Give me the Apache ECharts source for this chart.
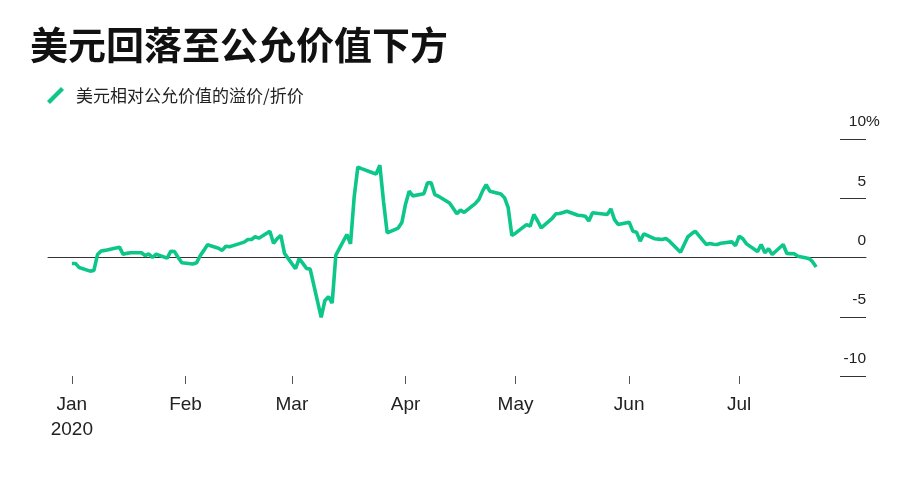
<!DOCTYPE html>
<html>
<head>
<meta charset="utf-8">
<script src="https://cdn.jsdelivr.net/npm/echarts@6/dist/echarts.min.js"></script>
<style>html,body{margin:0;padding:0;background:#fff}#c{width:913px;height:491px}</style>
</head>
<body>
<div id="c"></div>
<script>
var titleText = '美元回落至公允价值下方';
var seriesName = '美元相对公允价值的溢价/折价';
var dates = [
'2020-01-01','2020-01-02','2020-01-03','2020-01-06','2020-01-07','2020-01-08','2020-01-09','2020-01-10',
'2020-01-13','2020-01-14','2020-01-15','2020-01-16','2020-01-17','2020-01-20','2020-01-21','2020-01-22',
'2020-01-23','2020-01-24','2020-01-27','2020-01-28','2020-01-29','2020-01-30','2020-01-31',
'2020-02-03','2020-02-04','2020-02-05','2020-02-06','2020-02-07','2020-02-10','2020-02-11','2020-02-12',
'2020-02-13','2020-02-14','2020-02-17','2020-02-18','2020-02-19','2020-02-20','2020-02-21','2020-02-24',
'2020-02-25','2020-02-26','2020-02-27','2020-02-28',
'2020-03-02','2020-03-03','2020-03-04','2020-03-05','2020-03-06','2020-03-09','2020-03-10','2020-03-11',
'2020-03-12','2020-03-13','2020-03-16','2020-03-17','2020-03-18','2020-03-19','2020-03-20','2020-03-23',
'2020-03-24','2020-03-25','2020-03-26','2020-03-27','2020-03-30','2020-03-31',
'2020-04-01','2020-04-02','2020-04-03','2020-04-06','2020-04-07','2020-04-08','2020-04-09','2020-04-10',
'2020-04-13','2020-04-14','2020-04-15','2020-04-16','2020-04-17','2020-04-20','2020-04-21','2020-04-22',
'2020-04-23','2020-04-24','2020-04-27','2020-04-28','2020-04-29','2020-04-30',
'2020-05-01','2020-05-04','2020-05-05','2020-05-06','2020-05-07','2020-05-08','2020-05-11','2020-05-12',
'2020-05-13','2020-05-14','2020-05-15','2020-05-18','2020-05-19','2020-05-20','2020-05-21','2020-05-22',
'2020-05-26','2020-05-27','2020-05-28','2020-05-29',
'2020-06-01','2020-06-02','2020-06-03','2020-06-04','2020-06-05','2020-06-08','2020-06-09','2020-06-10',
'2020-06-11','2020-06-12','2020-06-15','2020-06-16','2020-06-17','2020-06-18','2020-06-19','2020-06-22',
'2020-06-23','2020-06-24','2020-06-25','2020-06-26','2020-06-29','2020-06-30',
'2020-07-01','2020-07-02','2020-07-03','2020-07-06','2020-07-07','2020-07-08','2020-07-09','2020-07-10',
'2020-07-13','2020-07-14','2020-07-15','2020-07-16','2020-07-17','2020-07-20','2020-07-21','2020-07-22'
];
var values = [
-0.5,-0.5,-0.85,-1.15,-1.1,0.25,0.55,0.6,
0.8,0.87,0.27,0.35,0.4,0.4,0.15,0.3,
0.0,0.28,-0.05,0.53,0.5,0.0,-0.45,
-0.55,-0.45,0.15,0.6,1.07,0.78,0.6,0.95,
0.9,1.0,1.3,1.52,1.52,1.75,1.63,2.22,
1.2,1.6,1.87,0.35,
-0.95,-0.1,-0.5,-0.92,-0.98,-5.05,-3.65,-3.3,
-3.85,0.2,1.94,1.15,5.1,7.63,7.5,7.15,
7.05,7.79,4.75,2.08,2.48,2.95,
4.5,5.6,5.2,5.38,6.3,6.3,5.3,5.17,
4.6,4.15,3.7,4.0,3.8,4.55,4.9,5.6,
6.15,5.6,5.36,5.05,4.2,1.86,
2.05,2.78,2.64,3.63,3.1,2.5,3.3,3.69,
3.71,3.8,3.9,3.57,3.55,3.49,3.08,3.77,
3.63,4.1,3.2,2.78,
2.98,2.22,2.14,1.38,2.0,1.58,1.55,1.52,
1.6,1.38,0.45,1.1,1.75,2.0,2.22,1.1,
1.18,1.12,1.1,1.2,1.32,1.0,
1.8,1.58,1.15,0.5,1.1,0.4,0.73,0.25,
1.1,0.34,0.33,0.31,0.11,-0.08,-0.35,-0.8
];
var monthTicks = ['2020-01-01','2020-02-01','2020-03-01','2020-04-01','2020-05-01','2020-06-01','2020-07-01'];
var monthLabels = ['Jan\n2020','Feb','Mar','Apr','May','Jun','Jul'];
var yTicks = [-10,-5,0,5,10];
var yUnit = '%';
var xMin = '2019-12-25 12:00:00';
var xMax = '2020-08-04 14:00:00';

var green = '#0dc68a';
var pd = echarts.number.parseDate;
var tickTs = monthTicks.map(function(s){ return +pd(s); });
var seriesData = dates.map(function(d, i){ return [+pd(d), values[i]]; });
var FONT = 'Liberation Sans, Arial, sans-serif';

var chart = echarts.init(document.getElementById('c'), null, {renderer: 'canvas'});
chart.setOption({
  animation: false,
  backgroundColor: '#fff',
  title: {
    text: titleText, left: 30, top: 24, padding: 0,
    textStyle: {fontFamily: 'Noto Sans CJK SC', fontSize: 38, fontWeight: 'bold', color: '#111', lineHeight: 42}
  },
  legend: {
    left: 47, top: 87, padding: 0, itemWidth: 17, itemHeight: 17, itemGap: 10,
    icon: 'path://M0,14 L14,0 L17,3 L3,17 Z',
    data: [seriesName],
    textStyle: {fontFamily: 'Noto Sans CJK SC', fontSize: 17, color: '#222', padding: [0,0,0,7]}
  },
  grid: {left: 48, right: 47, top: 139, bottom: 115},
  xAxis: [{
    type: 'value', min: +pd(xMin), max: +pd(xMax), position: 'bottom',
    axisLine: {show: false, onZero: false},
    axisTick: {show: true, length: 8, lineStyle: {color: '#555', width: 1}, customValues: tickTs},
    axisLabel: {
      customValues: tickTs, margin: 16, fontSize: 19, lineHeight: 25, color: '#222',
      fontFamily: FONT,
      formatter: function(v){
        for (var i = 0; i < tickTs.length; i++) { if (Math.abs(tickTs[i] - v) < 1000) return monthLabels[i]; }
        return '';
      }
    },
    splitLine: {show: false}
  }, {
    type: 'value', min: +pd(xMin), max: +pd(xMax), position: 'top',
    axisLine: {show: true, onZero: true, lineStyle: {color: '#333', width: 1}},
    axisTick: {show: false}, axisLabel: {show: false}, splitLine: {show: false}
  }],
  yAxis: {
    type: 'value', position: 'right', min: yTicks[0], max: yTicks[yTicks.length - 1], interval: 5,
    axisLine: {show: false},
    axisTick: {show: true, inside: true, length: 26, lineStyle: {color: '#333', width: 1}},
    axisLabel: {inside: true, margin: 0, verticalAlign: 'bottom', fontSize: 15.5, lineHeight: 16,
      padding: [0,0,9,0], color: '#222', fontFamily: FONT,
      formatter: function(v){ return String(v); }},
    splitLine: {show: false}
  },
  series: [{
    name: seriesName, type: 'line', xAxisIndex: 0, data: seriesData,
    showSymbol: false, symbol: 'none', color: green,
    lineStyle: {color: green, width: 3.6},
    itemStyle: {color: green},
    z: 3
  }]
});

// unit sign after the top tick label
var topPt = chart.convertToPixel({xAxisIndex: 0, yAxisIndex: 0}, [+pd(xMax), yTicks[yTicks.length - 1]]);
chart.setOption({
  graphic: [{
    type: 'text', x: topPt[0], y: topPt[1] - 9,
    style: {text: yUnit, fill: '#222', font: '15.5px ' + FONT, align: 'left', verticalAlign: 'bottom', lineHeight: 16}
  }]
});
</script>
</body>
</html>
